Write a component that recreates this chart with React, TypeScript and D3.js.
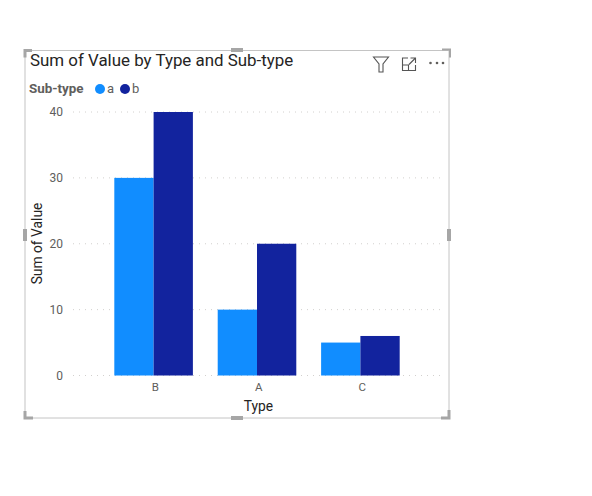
import React from "react";
import * as d3 from "d3";

const categories = ["B", "A", "C"];
const subTypes = ["a", "b"];
const valuesA = [30, 10, 5];
const valuesB = [40, 20, 6];
const yTicks = [0, 10, 20, 30, 40];
const colors = ["#118DFF", "#12239E"];
const FONT = "Roboto, 'Noto Sans', sans-serif";

const x = d3.scaleBand<string>().domain(categories).range([101.9, 412.1]).paddingInner(0.24).paddingOuter(0.12);
const x1 = d3.scaleBand<string>().domain(subTypes).range([0, x.bandwidth()]);
const y = d3.scaleLinear().domain([0, 40]).range([375.5, 112]);
const series = [valuesA, valuesB];

const handle = "#a6a6a6";
const L = 25, T = 50.5, R = 449, B = 418;

export default function App() {
  return (
    <svg width={592} height={496} style={{ position: "absolute", left: 0, top: 0, background: "#fff" }} fontFamily={FONT}>
      <rect x={L} y={T} width={R - L} height={B - T} fill="#fff" stroke="#c4c4c4" strokeWidth={1} />
      {/* corner and edge handles */}
      <path d={`M${L} ${T + 7}V${T}H${L + 7}`} fill="none" stroke={handle} strokeWidth={3} />
      <path d={`M${R - 7} ${T - 1}H${R + 1}V${T + 7}`} fill="none" stroke={handle} strokeWidth={2} />
      <path d={`M${L} ${B - 7}V${B}H${L + 8}`} fill="none" stroke={handle} strokeWidth={3} />
      <path d={`M${R - 8} ${B}H${R}V${B - 8}`} fill="none" stroke={handle} strokeWidth={3} />
      <rect x={231} y={48} width={12} height={4} fill={handle} />
      <rect x={231} y={416} width={12} height={4} fill={handle} />
      <rect x={23} y={229} width={4} height={12} fill={handle} />
      <rect x={447} y={229} width={4} height={12} fill={handle} />

      <text x={30} y={66} fontSize={16.9} fill="#252423">Sum of Value by Type and Sub-type</text>

      {/* header icons */}
      <path d="M373.5 57H388.5L383 64V72H379V64Z" fill="none" stroke="#555" strokeWidth={1.1} />
      <path d="M408 58H402.5V70.5H415.5V65M402.5 65H408.5V70.5M410.5 58H415.5V63M415 58.5L409 64.5" fill="none" stroke="#555" strokeWidth={1.1} />
      {[430.5, 437, 443].map((cx) => <circle key={cx} cx={cx} cy={63} r={1.3} fill="#605E5C" />)}

      {/* legend */}
      <text x={29} y={93} fontSize={13.4} fontWeight={700} fill="#605E5C">Sub-type</text>
      {subTypes.map((s, i) => (
        <g key={s}>
          <circle cx={100 + i * 25} cy={89} r={5} fill={colors[i]} />
          <text x={107 + i * 25} y={93} fontSize={13} fill="#605E5C">{s}</text>
        </g>
      ))}

      {/* y grid and ticks */}
      {yTicks.map((t) => (
        <g key={t}>
          <line x1={73} x2={441} y1={y(t)} y2={y(t)} stroke="#d2d0ce" strokeWidth={1} strokeDasharray="1 5" />
          <text x={63} y={y(t) + 4} fontSize={12} textAnchor="end" fill="#605E5C">{t}</text>
        </g>
      ))}

      {/* bars */}
      {categories.map((c, i) =>
        subTypes.map((s, j) => (
          <rect key={c + s} x={x(c)! + x1(s)!} y={y(series[j][i])} width={x1.bandwidth()} height={y(0) - y(series[j][i])} fill={colors[j]} />
        ))
      )}

      {/* x ticks */}
      {categories.map((c) => (
        <text key={c} x={x(c)! + x.bandwidth() / 2 + 1.8} y={391} fontSize={11.5} textAnchor="middle" fill="#605E5C">{c}</text>
      ))}

      <text x={258.5} y={411} fontSize={13.8} textAnchor="middle" fill="#252423">Type</text>
      <text transform="translate(41.5,243.5) rotate(-90)" fontSize={13.8} textAnchor="middle" fill="#252423">Sum of Value</text>
    </svg>
  );
}
